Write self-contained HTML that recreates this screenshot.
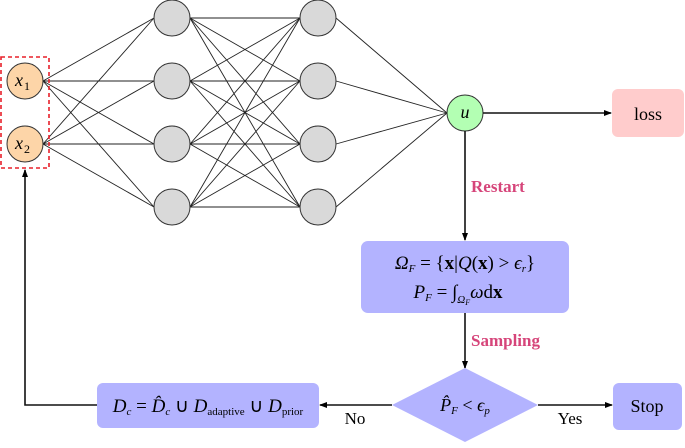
<!DOCTYPE html>
<html><head><meta charset="utf-8"><style>
html,body{margin:0;padding:0;background:#fff;}
svg text{font-family:"Liberation Serif",serif;}
</style></head><body>
<svg width="685" height="443" viewBox="0 0 685 443" xmlns="http://www.w3.org/2000/svg">
<defs><marker id="a" markerWidth="8" markerHeight="8" refX="7" refY="4" orient="auto" markerUnits="userSpaceOnUse"><path d="M0,1 L8,4 L0,7 z" fill="#000"/></marker></defs>
<g stroke="#222" stroke-width="0.9">
<line x1="43" y1="81" x2="154" y2="18"/><line x1="43" y1="81" x2="154" y2="81"/><line x1="43" y1="81" x2="154" y2="144"/><line x1="43" y1="81" x2="154" y2="207"/>
<line x1="43" y1="144" x2="154" y2="18"/><line x1="43" y1="144" x2="154" y2="81"/><line x1="43" y1="144" x2="154" y2="144"/><line x1="43" y1="144" x2="154" y2="207"/>
<line x1="190" y1="18" x2="300" y2="18"/><line x1="190" y1="18" x2="300" y2="81"/><line x1="190" y1="18" x2="300" y2="144"/><line x1="190" y1="18" x2="300" y2="207"/>
<line x1="190" y1="81" x2="300" y2="18"/><line x1="190" y1="81" x2="300" y2="81"/><line x1="190" y1="81" x2="300" y2="144"/><line x1="190" y1="81" x2="300" y2="207"/>
<line x1="190" y1="144" x2="300" y2="18"/><line x1="190" y1="144" x2="300" y2="81"/><line x1="190" y1="144" x2="300" y2="144"/><line x1="190" y1="144" x2="300" y2="207"/>
<line x1="190" y1="207" x2="300" y2="18"/><line x1="190" y1="207" x2="300" y2="81"/><line x1="190" y1="207" x2="300" y2="144"/><line x1="190" y1="207" x2="300" y2="207"/>
<line x1="336" y1="18" x2="447" y2="113"/><line x1="336" y1="81" x2="447" y2="113"/><line x1="336" y1="144" x2="447" y2="113"/><line x1="336" y1="207" x2="447" y2="113"/>
</g>
<g fill="#d9d9d9" stroke="#333" stroke-width="1">
<circle cx="172" cy="18" r="18"/><circle cx="172" cy="81" r="18"/><circle cx="172" cy="144" r="18"/><circle cx="172" cy="207" r="18"/>
<circle cx="318" cy="18" r="18"/><circle cx="318" cy="81" r="18"/><circle cx="318" cy="144" r="18"/><circle cx="318" cy="207" r="18"/>
</g>
<circle cx="25" cy="81" r="18" fill="#fdd5a8" stroke="#333"/>
<circle cx="25" cy="144" r="18" fill="#fdd5a8" stroke="#333"/>
<rect x="1" y="57" width="48" height="111" fill="none" stroke="#e8202a" stroke-width="1.6" stroke-dasharray="4,3"/>
<text x="15" y="86" font-size="18" font-style="italic">x</text><text x="24" y="90" font-size="12">1</text>
<text x="15" y="149" font-size="18" font-style="italic">x</text><text x="24" y="153" font-size="12">2</text>
<circle cx="465" cy="113" r="18" fill="#b3ffb3" stroke="#333"/>
<text x="465" y="118" font-size="18" font-style="italic" text-anchor="middle">u</text>
<g stroke="#111" stroke-width="1.6" fill="none">
<line x1="483" y1="113" x2="611" y2="113" marker-end="url(#a)"/>
<line x1="465" y1="131" x2="465" y2="240" marker-end="url(#a)"/>
<line x1="465" y1="313" x2="465" y2="368" marker-end="url(#a)"/>
<line x1="538" y1="405" x2="612" y2="405" marker-end="url(#a)"/>
<line x1="392" y1="405" x2="320" y2="405" marker-end="url(#a)"/>
<polyline points="97,405 25,405 25,170" marker-end="url(#a)"/>
</g>
<rect x="612" y="89" width="72" height="48" rx="6" fill="#ffcccc"/>
<text x="648" y="120" font-size="18" text-anchor="middle">loss</text>
<text x="471" y="192" font-size="17" font-weight="bold" fill="#d6457a">Restart</text>
<text x="471" y="346" font-size="17" font-weight="bold" fill="#d6457a">Sampling</text>
<rect x="361" y="241" width="208" height="72" rx="7" fill="#b3b3ff"/>
<text x="465" y="269" font-size="19" text-anchor="middle"><tspan font-style="italic">Ω</tspan><tspan font-size="11" font-style="italic" dy="3">F</tspan><tspan dy="-3"> = {</tspan><tspan font-weight="bold">x</tspan>|<tspan font-style="italic">Q</tspan>(<tspan font-weight="bold">x</tspan>) &gt; <tspan font-style="italic">ϵ</tspan><tspan font-size="11" font-style="italic" dy="3">r</tspan><tspan dy="-3">}</tspan></text>
<text x="458" y="298" font-size="19" text-anchor="middle"><tspan font-style="italic">P</tspan><tspan font-size="11" font-style="italic" dy="3">F</tspan><tspan dy="-3">  =  ∫</tspan><tspan font-size="11" font-style="italic" dy="5">Ω</tspan><tspan font-size="8" font-style="italic" dy="2">F</tspan><tspan dy="-7" font-style="italic">ω</tspan>d<tspan font-weight="bold">x</tspan></text>
<polygon points="465,368 538,405 465,442 392,405" fill="#b3b3ff"/>
<text x="465" y="411" font-size="18" text-anchor="middle"><tspan font-style="italic">P̂</tspan><tspan font-size="11" font-style="italic" dy="3">F</tspan><tspan dy="-3"> &lt; </tspan><tspan font-style="italic">ϵ</tspan><tspan font-size="11" font-style="italic" dy="3">p</tspan></text>
<rect x="613" y="383" width="69" height="47" rx="6" fill="#b3b3ff"/>
<text x="647" y="412" font-size="18" text-anchor="middle">Stop</text>
<text x="570" y="424" font-size="17" text-anchor="middle">Yes</text>
<text x="355" y="424" font-size="17" text-anchor="middle">No</text>
<rect x="97" y="383" width="222" height="45" rx="6" fill="#b3b3ff"/>
<text x="208" y="412" font-size="19" text-anchor="middle"><tspan font-style="italic">D</tspan><tspan font-size="11" font-style="italic" dy="3">c</tspan><tspan dy="-3"> = </tspan><tspan font-style="italic">D̂</tspan><tspan font-size="11" font-style="italic" dy="3">c</tspan><tspan dy="-3"> ∪ </tspan><tspan font-style="italic">D</tspan><tspan font-size="11" dy="3">adaptive</tspan><tspan dy="-3"> ∪ </tspan><tspan font-style="italic">D</tspan><tspan font-size="11" dy="3">prior</tspan></text>
</svg>
</body></html>
